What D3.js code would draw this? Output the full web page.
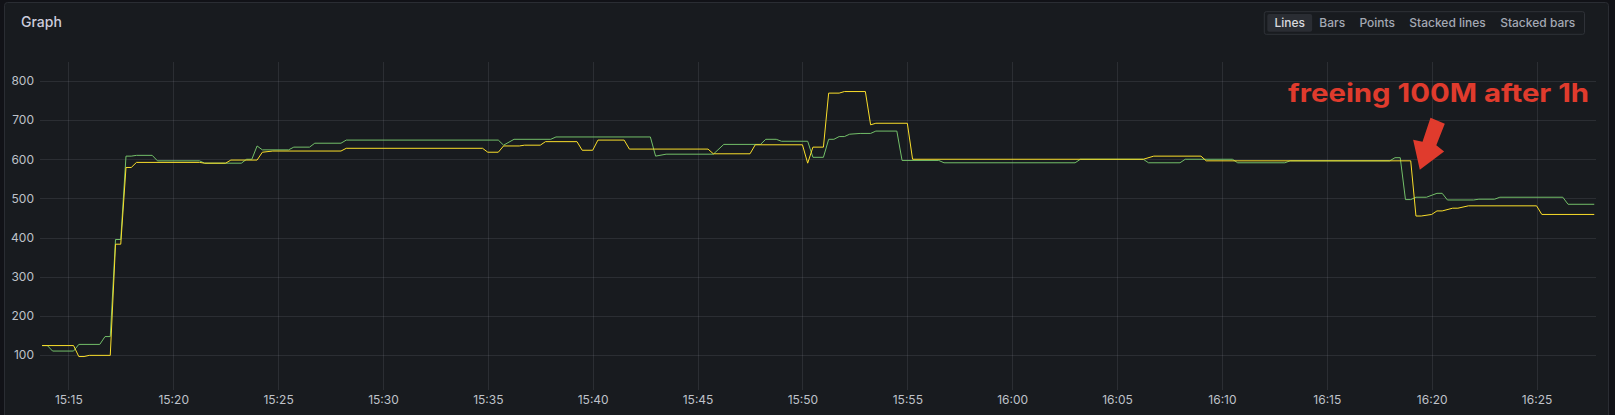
<!DOCTYPE html>
<html>
<head>
<meta charset="utf-8">
<script src="https://cdn.jsdelivr.net/npm/d3@7"></script>
<style>
  html, body { margin: 0; padding: 0; background: #111217; }
  svg { display: block; }
  text { font-family: Inter, "Noto Sans", sans-serif; }
</style>
</head>
<body>
<svg id="chart" width="1615" height="415"></svg>
<script>
// ---------------- data ----------------
const panelTitle = "Graph";
const modeOptions = ["Lines", "Bars", "Points", "Stacked lines", "Stacked bars"];
const activeMode = "Lines";

const yTicks = [100, 200, 300, 400, 500, 600, 700, 800];
const xTickLabels = ["15:15","15:20","15:25","15:30","15:35","15:40","15:45","15:50","15:55",
                     "16:00","16:05","16:10","16:15","16:20","16:25"];
const xDomain = ["15:13:39", "16:27:50"];
const yDomain = [10.5, 848.5];

const greenTimes = ["15:13:45","15:14:00","15:14:15","15:15:15","15:15:30","15:16:30","15:16:45","15:17:00",
  "15:17:15","15:17:30","15:17:45","15:18:00","15:18:15","15:19:00","15:19:15","15:21:15","15:21:30",
  "15:23:15","15:23:30","15:23:45","15:24:00","15:24:15","15:25:30","15:25:45","15:26:30","15:26:45",
  "15:28:00","15:28:15","15:35:30","15:35:45","15:36:15","15:38:00","15:38:15","15:42:45","15:43:00",
  "15:43:30","15:45:45","15:46:15","15:48:00","15:48:15","15:48:45","15:49:00","15:50:15","15:50:30",
  "15:51:00","15:51:15","15:51:30","15:51:45","15:52:00","15:52:15","15:52:45","15:53:15","15:53:30",
  "15:54:30","15:54:45","15:56:30","15:56:45","16:03:00","16:03:15","16:06:15","16:06:30","16:08:00",
  "16:08:15","16:10:30","16:10:45","16:13:00","16:13:15","16:18:00","16:18:15","16:18:30","16:18:45",
  "16:19:00","16:19:15","16:19:45","16:20:15","16:20:30","16:20:45","16:22:00","16:22:15","16:23:00",
  "16:23:15","16:26:15","16:26:30","16:27:45"];
const greenValues = [124,124,110,110,127,127,147,147,
  395,395,608,608,610,610,596,596,590,
  590,600,600,634,624,624,631,631,641,
  641,649,649,636,651,651,657,657,608,
  613,613,638,638,651,651,646,646,605,
  605,651,651,658,658,664,666,666,672,
  672,597,597,591,591,600,600,591,591,
  600,600,591,591,596,596,604,604,497,
  497,503,503,513,513,496,496,498,498,
  503,503,485,485];

const yellowTimes = ["15:13:45","15:15:15","15:15:30","15:15:45","15:16:00","15:17:00","15:17:15","15:17:30",
  "15:17:45","15:18:00","15:18:15","15:21:15","15:21:30","15:22:30","15:22:45","15:24:00","15:24:15",
  "15:24:45","15:28:00","15:28:15","15:34:45","15:35:00","15:35:30","15:35:45","15:36:30","15:36:45",
  "15:37:30","15:37:45","15:39:15","15:39:30","15:40:00","15:40:15","15:41:30","15:41:45","15:45:30",
  "15:45:45","15:47:30","15:47:45","15:50:00","15:50:15","15:50:30","15:51:00","15:51:15","15:51:45",
  "15:52:00","15:53:00","15:53:15","15:53:30","15:55:00","15:55:15","16:06:15","16:06:45","16:09:00",
  "16:09:15","16:19:00","16:19:15","16:19:30","16:20:00","16:20:15","16:20:30","16:21:00","16:21:15",
  "16:21:45","16:25:00","16:25:15","16:27:45"];
const yellowValues = [124,124,96,96,99,99,383,383,
  579,579,592,592,590,590,598,598,618,
  621,621,628,628,618,618,634,634,636,
  636,645,645,623,623,649,649,626,626,
  614,614,637,637,590,631,631,769,769,
  773,773,688,692,692,600,600,608,608,
  596,596,455,455,459,468,468,475,475,
  481,481,459,459];

const annotationText = "freeing 100M after 1h";
const annotationTime = "16:19:26";
const annotationValue = 573;

// ---------------- layout ----------------
const W = 1615, H = 415;
const plot = { left: 40, right: 1596, top: 62, bottom: 390 };
const colors = { green: "#73BF69", yellow: "#FADE2A", red: "#E03B2D",
                 grid: "rgba(204,204,220,0.11)", tick: "#bfc2c9" };

const parse = d3.timeParse("%H:%M:%S");
const parseHM = d3.timeParse("%H:%M");

const x = d3.scaleTime().domain(xDomain.map(parse)).range([plot.left, plot.right]);
const y = d3.scaleLinear().domain(yDomain).range([plot.bottom, plot.top]);

const svg = d3.select("#chart");

// panel
svg.append("rect").attr("x", 4.5).attr("y", 2.5).attr("width", 1604).attr("height", 430)
  .attr("rx", 3).attr("fill", "#181b1f").attr("stroke", "#2a2d33");

svg.append("text").attr("x", 21).attr("y", 27).text(panelTitle)
  .attr("fill", "#ccccdc").attr("font-size", 14).attr("font-weight", 500);

// mode buttons (group spans 1267.3 .. 1582.5 inside a bordered box)
const bg = svg.append("g");
const groupStart = 1267.3, groupEnd = 1582.5;
const btnY = 14, btnH = 17.7;
const texts = modeOptions.map(m => bg.append("text").text(m).attr("font-size", 12)
    .attr("font-weight", 500)
    .attr("fill", m === activeMode ? "#d8d9de" : "#a3a8b3")
    .attr("y", 27).attr("text-anchor", "middle"));
const widths = texts.map(t => t.node().getComputedTextLength());
const pad = (groupEnd - groupStart - d3.sum(widths)) / modeOptions.length;
let bx = groupStart;
modeOptions.forEach((m, i) => {
  const w = widths[i] + pad;
  if (m === activeMode) {
    bg.insert("rect", "text").attr("x", bx).attr("y", btnY).attr("width", w).attr("height", btnH)
      .attr("rx", 2).attr("fill", "#2a2d33");
  }
  texts[i].attr("x", bx + w / 2);
  bx += w;
});
bg.append("rect").attr("x", 1264.3).attr("y", 11.7).attr("width", groupEnd + 2 - 1264.3).attr("height", 22.6)
  .attr("rx", 2).attr("fill", "none").attr("stroke", "#2f3238");

// grid
const grid = svg.append("g");
grid.selectAll("line.h").data(yTicks).join("line")
  .attr("x1", plot.left).attr("x2", plot.right)
  .attr("y1", d => Math.round(y(d)) + 0.5).attr("y2", d => Math.round(y(d)) + 0.5)
  .attr("stroke", colors.grid);
const xTickDates = xTickLabels.map(parseHM);
grid.selectAll("line.v").data(xTickDates).join("line")
  .attr("x1", d => Math.round(x(d)) + 0.5).attr("x2", d => Math.round(x(d)) + 0.5)
  .attr("y1", plot.top).attr("y2", plot.bottom)
  .attr("stroke", colors.grid);

// y axis labels
const yAxis = d3.axisLeft(y).tickValues(yTicks).tickSize(0).tickPadding(0);
svg.append("g").attr("transform", `translate(34,0)`).call(yAxis)
  .call(g => g.select(".domain").remove())
  .selectAll("text").attr("fill", colors.tick).attr("font-size", 12)
  .attr("font-family", "Inter, sans-serif");

// x axis labels
const xAxis = d3.axisBottom(x).tickValues(xTickDates).tickFormat(d3.timeFormat("%H:%M"))
  .tickSize(0).tickPadding(0);
svg.append("g").attr("transform", `translate(0,395)`).call(xAxis)
  .call(g => g.select(".domain").remove())
  .selectAll("text").attr("fill", colors.tick).attr("font-size", 12)
  .attr("font-family", "Inter, sans-serif").attr("dy", "0.71em");

// series
const line = d3.line().x(d => x(d[0])).y(d => y(d[1]));
const green = greenTimes.map((t, i) => [parse(t), greenValues[i]]);
const yellow = yellowTimes.map((t, i) => [parse(t), yellowValues[i]]);
svg.append("path").datum(green).attr("d", line).attr("fill", "none")
  .attr("stroke", colors.green).attr("stroke-width", 1);
svg.append("path").datum(yellow).attr("d", line).attr("fill", "none")
  .attr("stroke", colors.yellow).attr("stroke-width", 1);

// annotation
const tipX = x(parse(annotationTime)), tipY = y(annotationValue);
const arrowShape = [[10.7,-52],[25,-46],[16.5,-24.5],[24.3,-18.3],[0,0],[-6.7,-30],[2.7,-28]];
svg.append("polygon")
  .attr("points", arrowShape.map(p => [tipX + p[0], tipY + p[1]].join(",")).join(" "))
  .attr("fill", colors.red);
svg.append("text").text(annotationText)
  .attr("x", tipX + 169.3).attr("y", tipY - 68.3).attr("text-anchor", "end")
  .attr("fill", colors.red).attr("font-size", 25.5).attr("font-weight", 700)
  .attr("font-family", "'Open Sans', 'Noto Sans', sans-serif")
  .attr("textLength", 301).attr("lengthAdjust", "spacingAndGlyphs");
</script>
</body>
</html>
